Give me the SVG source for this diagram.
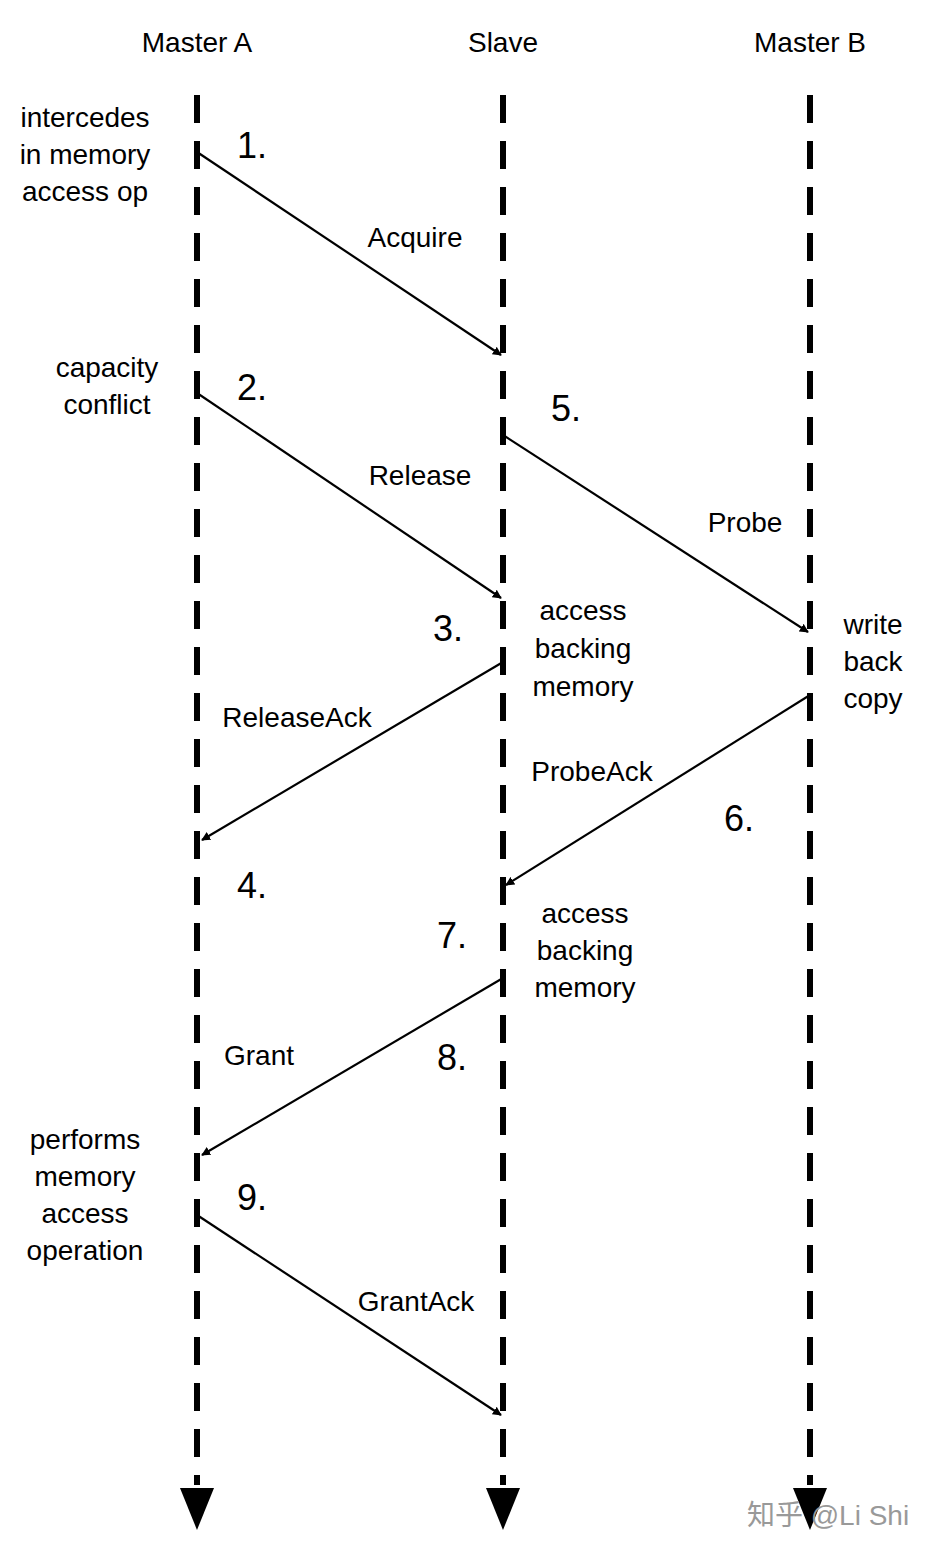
<svg xmlns="http://www.w3.org/2000/svg" width="932" height="1554" viewBox="0 0 932 1554">
<defs>
<style>
.life{stroke:#000;stroke-width:6;stroke-dasharray:28 18;fill:none}
.msg{stroke:#000;stroke-width:2.2;fill:none;marker-end:url(#ah)}
text{font-family:"Liberation Sans",Arial,sans-serif;fill:#000}
.t{font-size:28px;text-anchor:middle}
.n{font-size:36px;text-anchor:middle}
</style>
<marker id="ah" viewBox="0 0 10 10" refX="9" refY="5" markerWidth="9" markerHeight="9" markerUnits="userSpaceOnUse" orient="auto"><path d="M0,0L10,5L0,10Z" fill="#000"/></marker>
</defs>
<rect width="932" height="1554" fill="#fff"/>
<g id="masterA"><text class="t" x="197" y="52">Master A</text><line class="life" x1="197" y1="95" x2="197" y2="1485"/><path d="M180,1488L214,1488L197,1530Z"/></g>
<g id="slave"><text class="t" x="503" y="52">Slave</text><line class="life" x1="503" y1="95" x2="503" y2="1485"/><path d="M486,1488L520,1488L503,1530Z"/></g>
<g id="masterB"><text class="t" x="810" y="52">Master B</text><line class="life" x1="810" y1="95" x2="810" y2="1485"/><path d="M793,1488L827,1488L810,1530Z"/></g>
<g id="connectors">
<line class="msg" x1="197" y1="152" x2="501" y2="355"/>
<line class="msg" x1="197" y1="393" x2="501" y2="598"/>
<line class="msg" x1="503" y1="435" x2="808" y2="632"/>
<line class="msg" x1="503" y1="662" x2="202" y2="840"/>
<line class="msg" x1="810" y1="695" x2="506" y2="885"/>
<line class="msg" x1="503" y1="978" x2="202" y2="1155"/>
<line class="msg" x1="197" y1="1215" x2="501" y2="1415"/>
</g>
<g id="labels">
<text class="t" x="415" y="247">Acquire</text>
<text class="t" x="420" y="485">Release</text>
<text class="t" x="745" y="532">Probe</text>
<text class="t" x="297" y="727">ReleaseAck</text>
<text class="t" x="592" y="781">ProbeAck</text>
<text class="t" x="259" y="1065">Grant</text>
<text class="t" x="416" y="1311">GrantAck</text>
<text class="n" x="252" y="158">1.</text>
<text class="n" x="252" y="400">2.</text>
<text class="n" x="566" y="421">5.</text>
<text class="n" x="448" y="641">3.</text>
<text class="n" x="739" y="831">6.</text>
<text class="n" x="252" y="898">4.</text>
<text class="n" x="452" y="948">7.</text>
<text class="n" x="452" y="1070">8.</text>
<text class="n" x="252" y="1210">9.</text>
<text class="t" x="85" y="127">intercedes</text>
<text class="t" x="85" y="164">in memory</text>
<text class="t" x="85" y="201">access op</text>
<text class="t" x="107" y="377">capacity</text>
<text class="t" x="107" y="414">conflict</text>
<text class="t" x="583" y="620">access</text>
<text class="t" x="583" y="658">backing</text>
<text class="t" x="583" y="696">memory</text>
<text class="t" x="873" y="634">write</text>
<text class="t" x="873" y="671">back</text>
<text class="t" x="873" y="708">copy</text>
<text class="t" x="585" y="923">access</text>
<text class="t" x="585" y="960">backing</text>
<text class="t" x="585" y="997">memory</text>
<text class="t" x="85" y="1149">performs</text>
<text class="t" x="85" y="1186">memory</text>
<text class="t" x="85" y="1223">access</text>
<text class="t" x="85" y="1260">operation</text>
<text x="828" y="1525" style="font-size:28px;text-anchor:middle;fill:#999;font-family:'Liberation Sans','Noto Sans CJK SC',sans-serif">知乎 @Li Shi</text>
</g>
</svg>
